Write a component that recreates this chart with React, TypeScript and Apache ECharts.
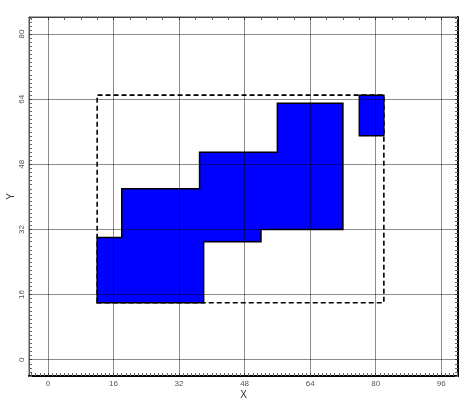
import React, { useEffect, useRef } from "react";
import * as echarts from "echarts";

// Axis extents and tick labels
const xMin = -4.64;
const xMax = 100.1;
const yMin = -4;
const yMax = 84.2;
const xMajorTicks = [0, 16, 32, 48, 64, 80, 96];
const yMajorTicks = [0, 16, 32, 48, 64, 80];

// Shapes (data coordinates)
const mainShapeX = [12, 12, 18, 18, 37, 37, 56, 56, 72, 72, 52, 52, 38, 38];
const mainShapeY = [14, 30, 30, 42, 42, 51, 51, 63, 63, 32, 32, 29, 29, 14];
const smallRectX = [76, 76, 82, 82];
const smallRectY = [55, 65, 65, 55];
const boundsX = [12, 12, 82, 82];
const boundsY = [14, 65, 65, 14];

function range(a: number, b: number, step: number) {
  const out: number[] = [];
  for (let v = a; v <= b + 1e-9; v += step) out.push(v);
  return out;
}

const xMinorTicks = range(-4, 100, 1);
const xTopTicks = range(-4, 100, 4);
const yMinorTicks = range(-4, 84, 1);

type Shape = { x: number[]; y: number[]; kind: "dash" | "fill" };
const shapes: Shape[] = [
  { x: boundsX, y: boundsY, kind: "dash" },
  { x: mainShapeX, y: mainShapeY, kind: "fill" },
  { x: smallRectX, y: smallRectY, kind: "fill" },
];

export default function App() {
  const ref = useRef<HTMLDivElement>(null);
  useEffect(() => {
    if (!ref.current) return;
    const chart = echarts.init(ref.current, undefined, { renderer: "svg" });
    const tickColor = "#666";
    const labelStyle = { color: "#555", fontSize: 8, fontFamily: "Liberation Sans, Arial, sans-serif" };
    chart.setOption({
      animation: false,
      grid: {
        left: 29,
        right: 16,
        top: 17,
        bottom: 30,
        outerBoundsMode: "none",
        containLabel: false,
        show: true,
        borderColor: "#555",
        borderWidth: 1,
        backgroundColor: "#fff",
      },
      xAxis: [
        {
          type: "value",
          position: "bottom",
          min: xMin,
          max: xMax,
          name: "X",
          nameLocation: "middle",
          nameGap: 13,
          nameMoveOverlap: false,
          nameTextStyle: { color: "#333", fontSize: 10, fontFamily: "Liberation Sans, Arial, sans-serif" },
          axisLine: { show: true, onZero: false, lineStyle: { color: "#000", width: 2 } },
          axisTick: { show: true, inside: true, length: 3, customValues: xMinorTicks, lineStyle: { color: tickColor, width: 1 } },
          axisLabel: { ...labelStyle, margin: 3, customValues: xMajorTicks },
          splitLine: { show: false },
        },
        {
          type: "value",
          position: "top",
          min: xMin,
          max: xMax,
          axisLine: { show: true, onZero: false, lineStyle: { color: "#444", width: 1 } },
          axisTick: { show: true, inside: true, length: 3, customValues: xTopTicks, lineStyle: { color: tickColor, width: 1 } },
          axisLabel: { show: false },
          splitLine: { show: false },
        },
      ],
      yAxis: [
        {
          type: "value",
          position: "left",
          min: yMin,
          max: yMax,
          name: "Y",
          nameLocation: "middle",
          nameGap: 14,
          nameMoveOverlap: false,
          nameTextStyle: { color: "#333", fontSize: 10, fontFamily: "Liberation Sans, Arial, sans-serif" },
          axisLine: { show: true, onZero: false, lineStyle: { color: "#555", width: 1 } },
          axisTick: { show: true, inside: true, length: 3, customValues: yMinorTicks, lineStyle: { color: tickColor, width: 1 } },
          axisLabel: { ...labelStyle, margin: 4, rotate: 90, customValues: yMajorTicks },
          splitLine: { show: false },
        },
        {
          type: "value",
          position: "right",
          min: yMin,
          max: yMax,
          axisLine: { show: true, onZero: false, lineStyle: { color: "#000", width: 2 } },
          axisTick: { show: true, inside: true, length: 3, customValues: yMinorTicks, lineStyle: { color: tickColor, width: 1 } },
          axisLabel: { show: false },
          splitLine: { show: false },
        },
      ],
      series: [
        {
          type: "custom",
          xAxisIndex: 0,
          yAxisIndex: 0,
          data: shapes.map((_, i) => [i]),
          renderItem: (params: any, api: any) => {
            const s = shapes[params.dataIndex];
            const pts = s.x.map((x, i) => api.coord([x, s.y[i]]));
            if (s.kind === "dash") {
              return {
                type: "polygon",
                shape: { points: pts },
                style: { fill: "transparent", stroke: "#000", lineWidth: 1.6, lineDash: [5, 3] },
              };
            }
            return {
              type: "polygon",
              shape: { points: pts },
              style: { fill: "#0000ff", stroke: "#000", lineWidth: 1.5 },
            };
          },
          markLine: {
            silent: true,
            symbol: ["none", "none"],
            label: { show: false },
            lineStyle: { color: "rgba(0,0,0,0.45)", type: "solid", width: 1 },
            emphasis: { disabled: true },
            data: [
              ...xMajorTicks.map((v) => ({ xAxis: v })),
              ...yMajorTicks.map((v) => ({ yAxis: v })),
            ],
          },
        },
      ],
    });
    return () => chart.dispose();
  }, []);
  return <div ref={ref} style={{ position: "fixed", left: 0, top: 0, width: 474, height: 406 }} />;
}
